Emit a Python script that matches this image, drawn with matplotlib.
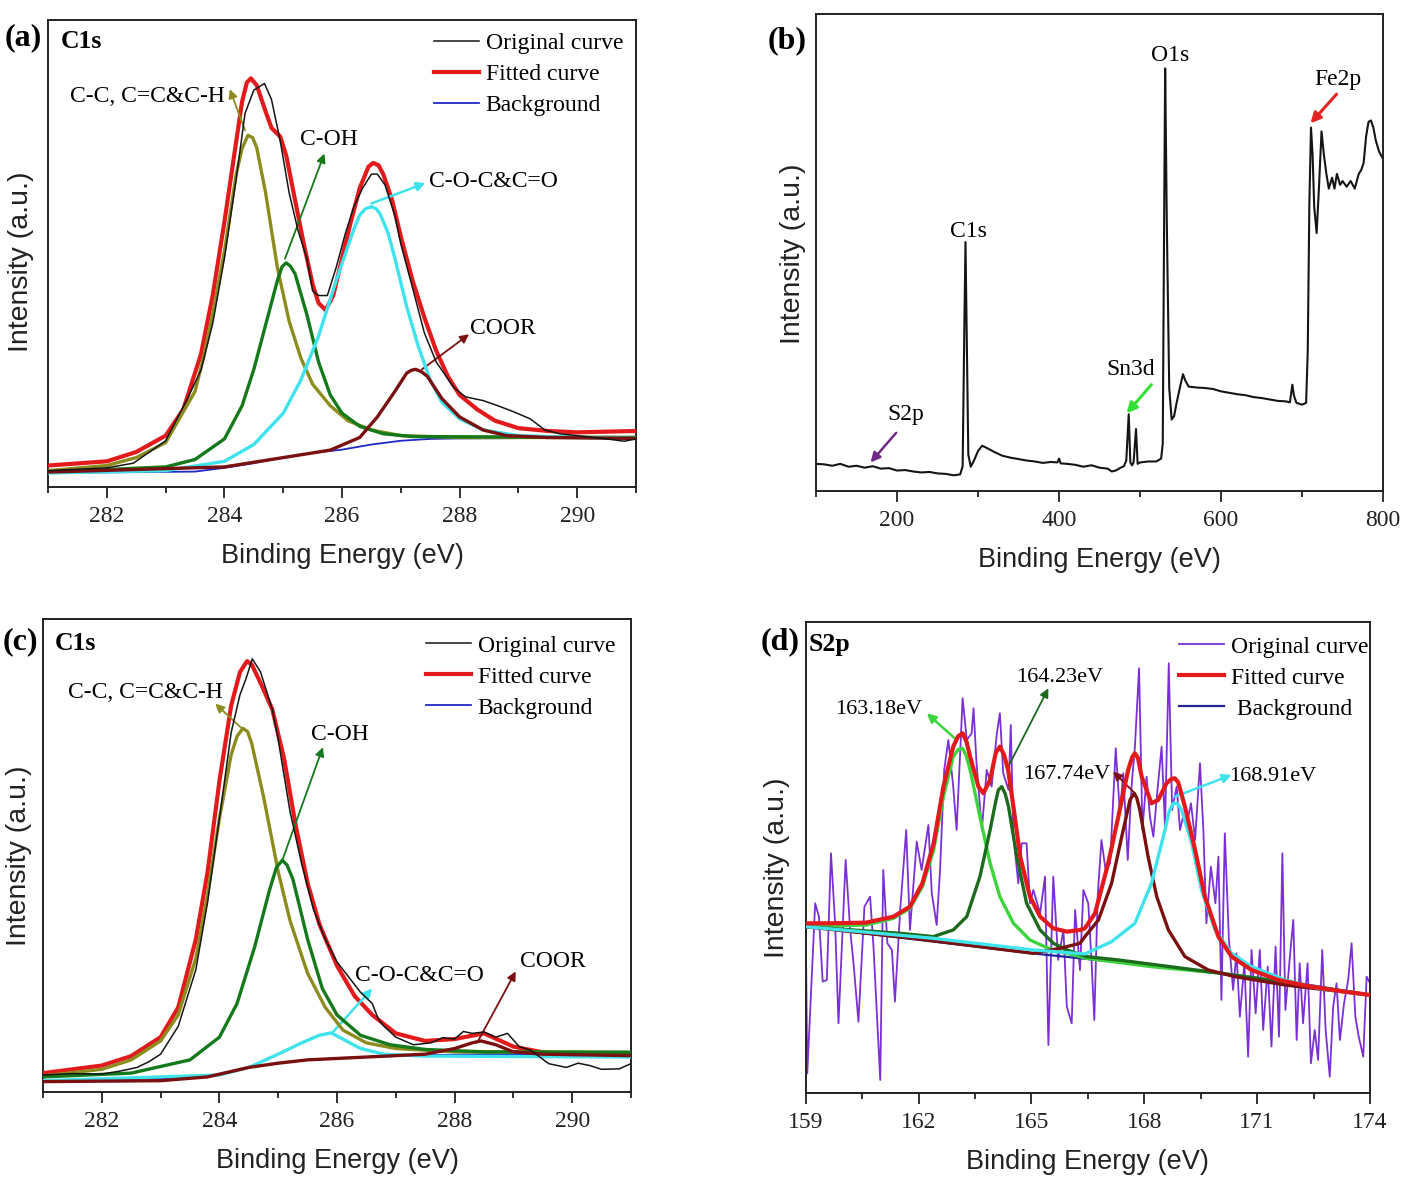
import matplotlib
matplotlib.use("Agg")
import matplotlib.pyplot as plt
from matplotlib.ticker import MultipleLocator

plt.rcParams['font.family'] = ['Liberation Serif', 'DejaVu Serif']
SANS = 'Liberation Sans'

# ---------------------------------
# Data
# ---------------------------------

# (a) C1s
a_orig_x = [281, 282, 282.45, 283.0, 283.37, 283.6, 283.8, 284.0, 284.2, 284.35, 284.5, 284.68, 284.8, 284.95,
            285.1, 285.25, 285.4, 285.5, 285.6, 285.75, 285.9, 286.05, 286.2, 286.35, 286.5, 286.6, 286.73,
            286.9, 287.0, 287.2, 287.4, 287.6, 287.9, 288.1, 288.4, 288.65, 288.9, 289.2, 289.45, 289.7,
            290.0, 290.5, 290.8, 291.0]
a_orig_y = [3.5, 4.1, 5.1, 9.9, 18.9, 25.0, 35.0, 49.0, 66.0, 80.0, 85.0, 86.4, 83.0, 74.0,
            63.0, 55.0, 49.0, 42.0, 41.0, 41.0, 47.0, 54.0, 60.0, 64.0, 67.0, 67.0, 64.7,
            58.0, 52.0, 42.6, 33.0, 26.8, 21.3, 19.3, 18.5, 17.4, 16.2, 14.6, 12.2, 11.4,
            11.0, 10.3, 9.8, 10.3]
a_fit_x = [281, 282, 282.5, 283, 283.3, 283.6, 283.8, 284.0, 284.2, 284.3, 284.38, 284.45, 284.55, 284.7, 284.8,
           284.95, 285.05, 285.2, 285.35, 285.5, 285.6, 285.72, 285.85, 286.0, 286.15, 286.3, 286.45, 286.53,
           286.62, 286.7, 286.85, 287.0, 287.2, 287.4, 287.6, 287.8, 288.0, 288.3, 288.6, 289.0, 289.5, 290.0, 291.0]
a_fit_y = [4.6, 5.5, 7.5, 11.0, 16.6, 28.4, 41.0, 56.8, 74.0, 82.5, 86.6, 87.5, 86.0, 80.4, 76.9,
           75.0, 71.0, 61.5, 52.0, 43.4, 39.4, 37.9, 41.0, 49.0, 56.8, 64.0, 68.6, 69.4,
           68.9, 67.0, 61.5, 53.6, 44.2, 36.3, 29.2, 23.7, 19.7, 16.6, 14.2, 12.6, 12.0, 11.7, 12.0]
a_bg_x = [281, 283.5, 284, 284.5, 285, 285.5, 286, 286.5, 287, 287.5, 288, 291]
a_bg_y = [3.0, 3.3, 4.1, 5.1, 6.3, 7.3, 8.0, 9.1, 9.9, 10.3, 10.4, 10.6]
a_cc_x = [281, 282, 282.5, 283, 283.5, 283.65, 283.8, 284.0, 284.2, 284.3, 284.4, 284.48, 284.55, 284.7, 284.9,
          285.1, 285.3, 285.5, 285.8, 286.1, 286.5, 287.0, 288.0, 291.0]
a_cc_y = [3.5, 4.6, 6.3, 9.5, 20.5, 28.0, 37.0, 50.5, 67.0, 72.5, 75.3, 74.8, 72.6, 63.0, 47.0,
          35.5, 27.6, 22.0, 17.4, 14.2, 12.2, 11.0, 10.6, 10.6]
a_coh_x = [281, 283, 283.5, 284.0, 284.3, 284.5, 284.7, 284.9, 284.98, 285.05, 285.12, 285.2, 285.4, 285.6,
           285.8, 286.0, 286.3, 286.7, 287.2, 291.0]
a_coh_y = [3.2, 4.3, 5.9, 10.3, 17.4, 25.2, 34.7, 44.2, 47.2, 48.0, 47.3, 45.7, 37.0, 26.8,
           19.7, 15.8, 13.0, 11.4, 10.8, 10.6]
a_coc_x = [281, 283, 284, 284.5, 285, 285.3, 285.6, 285.9, 286.2, 286.3, 286.4, 286.5, 286.58, 286.65,
           286.78, 286.9, 287.1, 287.3, 287.5, 287.7, 288, 288.4, 289, 290, 291]
a_coc_y = [3.0, 3.5, 5.5, 9.1, 15.8, 22.9, 32.3, 44.2, 55.2, 58.2, 59.6, 60.0, 59.6, 58.4,
           54.5, 48.9, 38.6, 30.0, 22.9, 18.1, 14.6, 12.2, 11.0, 10.6, 10.4]
a_coor_x = [281, 284, 285, 285.8, 286.3, 286.6, 286.9, 287.1, 287.18, 287.25, 287.35, 287.45, 287.7, 288,
            288.4, 288.8, 289.5, 291]
a_coor_y = [3.2, 4.3, 6.3, 7.9, 10.6, 15.0, 20.5, 24.4, 25.0, 25.2, 24.7, 23.7, 18.9, 15.0,
            12.2, 11.0, 10.6, 10.4]

# (b) survey spectrum
b_x = [100, 110, 120, 130, 140, 150, 160, 170, 180, 190, 200, 210, 220, 230, 240, 250, 260, 270, 278,
       281, 283, 284.5, 286, 288, 291, 295, 300, 305, 310, 320, 330, 340, 350, 360, 370, 380, 390, 398,
       400, 402, 410, 420, 430, 440, 450, 460, 465, 470, 475, 480, 483, 486, 488, 490, 492, 495, 497,
       500, 510, 520, 526, 528, 530, 531, 533, 536, 539, 542, 545, 550, 553, 556, 560, 570, 580, 590,
       600, 610, 620, 630, 640, 650, 660, 670, 680, 685, 688, 690, 693, 700, 705, 707, 709, 711, 713,
       715, 718, 721, 724, 727, 730, 733, 737, 740, 743, 747, 750, 755, 760, 765, 770, 773, 776, 779,
       782, 785, 788, 791, 795, 800]
b_y = [5.7, 5.6, 5.3, 5.7, 5.1, 5.3, 4.9, 5.2, 4.7, 4.8, 4.3, 4.4, 4.1, 3.9, 4.0, 3.7, 3.6, 3.3, 3.5,
       5.2, 33.2, 52.2, 33.0, 7.6, 5.1, 6.4, 8.4, 9.5, 9.1, 8.2, 7.4, 7.0, 6.7, 6.4, 6.2, 5.9, 6.1, 6.0,
       6.8, 5.8, 5.7, 5.5, 5.1, 5.4, 4.9, 4.7, 4.1, 4.3, 4.8, 5.2, 6.4, 16.1, 6.0, 5.4, 6.0, 13.0, 5.7,
       6.0, 6.2, 6.2, 6.8, 9.9, 64.2, 88.6, 56.4, 21.6, 15.0, 15.7, 18.4, 22.3, 24.5, 23.1, 21.9, 21.7, 21.6, 21.4,
       20.9, 20.6, 20.3, 20.1, 19.7, 19.5, 19.2, 18.9, 18.8, 18.6, 22.3, 20.0, 18.5, 18.1, 18.5, 29.3, 60.3, 76.2, 70.4,
       59.5, 54.1, 64.2, 75.4, 70.4, 66.5, 63.4, 65.7, 63.4, 66.5, 64.2, 65.0, 63.8, 65.0, 63.4, 66.5, 67.3, 68.8, 74.3,
       77.4, 77.7, 76.2, 73.5, 71.2, 69.6]

# (c) C1s
c_orig_x = [281, 281.5, 282, 282.3, 282.6, 282.8, 283.0, 283.3, 283.6, 283.8, 284.0, 284.2, 284.35, 284.45,
            284.56, 284.7, 284.9, 285.0, 285.2, 285.4, 285.6, 285.8, 286.0, 286.2, 286.4, 286.6, 286.7,
            286.8, 287.0, 287.3, 287.6, 287.8, 288.0, 288.15, 288.3, 288.5, 288.7, 288.9, 289.1, 289.3,
            289.6, 289.9, 290.1, 290.3, 290.5, 290.8, 291]
c_orig_y = [3.6, 3.9, 3.8, 4.4, 5.2, 6.4, 8.0, 13.9, 25.9, 40.2, 57.8, 76.0, 84.0, 87.3,
            91.6, 88.8, 80.9, 74.5, 59.4, 48.2, 38.6, 32.3, 27.5, 24.3, 21.1, 18.7, 15.5,
            13.9, 11.6, 10.0, 10.4, 11.5, 11.2, 12.8, 12.4, 12.7, 11.6, 12.4, 9.6, 8.8,
            6.0, 5.2, 6.1, 5.6, 4.8, 4.9, 6.0]
c_fit_x = [281, 282, 282.5, 283, 283.3, 283.6, 283.8, 284.0, 284.2, 284.35, 284.47, 284.55, 284.7, 284.9,
           285.1, 285.3, 285.5, 285.7, 286.0, 286.3, 286.6, 287.0, 287.5, 288.0, 288.5, 289.0, 289.5, 290, 291]
c_fit_y = [4.0, 5.6, 7.6, 11.6, 17.9, 32.3, 46.6, 65.7, 81.7, 88.8, 91.1, 90.4, 86.5, 80.9,
           70.5, 56.2, 44.2, 35.5, 26.7, 20.3, 16.3, 12.4, 10.8, 11.2, 12.4, 9.6, 8.4, 8.0, 7.6]
c_bg_x = [281, 283.8, 284.5, 285, 285.5, 286.5, 287.5, 288.5, 291]
c_bg_y = [2.2, 3.2, 5.2, 6.1, 6.8, 7.4, 7.8, 8.0, 8.0]
c_cc_x = [281, 282, 282.5, 283, 283.3, 283.6, 283.8, 284.0, 284.2, 284.3, 284.4, 284.48, 284.55, 284.75, 285.0,
          285.2, 285.5, 285.8, 286.1, 286.5, 287, 288, 291]
c_cc_y = [3.4, 4.8, 6.8, 10.8, 16.3, 28.3, 41.8, 57.8, 71.3, 75.2, 76.9, 76.2, 73.7, 62.5, 46.6,
          36.3, 25.1, 17.9, 13.1, 10.4, 9.2, 8.5, 8.4]
c_coh_x = [281, 282.5, 283.5, 284.0, 284.3, 284.6, 284.85, 284.97, 285.07, 285.15, 285.25, 285.5, 285.75,
           286.0, 286.4, 286.9, 287.5, 288.5, 291]
c_coh_y = [3.2, 4.0, 6.8, 11.6, 18.7, 30.7, 42.6, 47.5, 49.0, 48.0, 45.0, 32.3, 21.9,
           16.3, 12.0, 10.0, 9.0, 8.5, 8.4]
c_coc_x = [281, 284, 284.5, 285, 285.4, 285.7, 285.9, 286.1, 286.4, 286.8, 287.5, 291]
c_coc_y = [2.4, 3.6, 5.2, 8.0, 10.4, 12.0, 12.5, 11.2, 9.2, 8.0, 7.6, 7.4]
c_coor_x = [281, 283, 283.8, 284.5, 285, 285.5, 286.5, 287.5, 288, 288.3, 288.45, 288.7, 289, 289.5, 291]
c_coor_y = [2.2, 2.4, 3.2, 5.2, 6.1, 6.8, 7.4, 8.0, 9.2, 10.4, 10.8, 10.0, 8.5, 8.0, 7.7]

# (d) S2p
d_orig_x = [159.0, 159.04, 159.25, 159.35, 159.45, 159.56, 159.67, 159.78, 159.87, 160.06,
            160.18, 160.27, 160.40, 160.56, 160.71, 160.80, 160.98, 161.06, 161.17, 161.29,
            161.37, 161.51, 161.67, 161.77, 161.95, 162.08, 162.26, 162.35, 162.48, 162.57,
            162.68, 162.79, 162.92, 163.01, 163.17, 163.28, 163.41, 163.46, 163.54, 163.68,
            163.81, 163.94, 164.08, 164.16, 164.25, 164.39, 164.45, 164.52, 164.65, 164.74,
            164.87, 164.96, 165.05, 165.23, 165.36, 165.45, 165.58, 165.71, 165.85, 165.94,
            166.07, 166.16, 166.29, 166.38,
            166.51, 166.6, 166.67, 166.76, 166.86, 166.97, 167.09, 167.24, 167.35, 167.44,
            167.56, 167.66, 167.75, 167.86, 167.95, 168.06, 168.15, 168.24, 168.35, 168.46,
            168.55, 168.65, 168.74, 168.86, 168.95, 169.03, 169.12, 169.24, 169.35, 169.48,
            169.57, 169.65, 169.77, 169.89, 169.97, 170.05, 170.14, 170.25, 170.36, 170.45,
            170.54, 170.66, 170.76, 170.85, 170.96, 171.07, 171.16, 171.28, 171.38, 171.49,
            171.58, 171.67, 171.75, 171.87, 171.96, 172.05, 172.13, 172.22, 172.34, 172.43,
            172.53, 172.62, 172.73, 172.82, 172.93, 173.02, 173.11, 173.2, 173.31, 173.42,
            173.51, 173.61, 173.7, 173.82, 173.91, 174.0]
d_orig_y = [48.9, 5.9, 56.9, 52.9, 33.4, 33.9, 71.9, 50.9, 20.9, 69.9,
            48.9, 38.9, 21.4, 55.9, 58.9, 43.9, 3.9, 66.9, 44.9, 42.9,
            27.4, 54.9, 78.9, 48.9, 75.4, 66.9, 80.4, 59.9, 50.4, 66.9,
            96.9, 105.9, 91.9, 78.9, 118.4, 105.9, 107.9, 115.4, 98.9, 78.9,
            96.9, 91.9, 107.9, 113.9, 95.9, 90.9, 110.4, 76.9, 62.9, 74.9,
            74.9, 56.9, 60.9, 53.9, 64.9, 14.4, 64.9, 39.9, 48.9, 25.9,
            20.9, 54.9, 36.9, 60.9,
            56.9, 38.9, 21.9, 58.9, 75.9, 66.9, 68.9, 103.4, 83.9, 95.9,
            69.9, 91.9, 103.9, 127.4, 78.9, 94.9, 82.9, 76.9, 90.9, 103.9,
            79.9, 128.9, 84.9, 91.9, 78.9, 82.9, 79.9, 86.9, 75.9, 98.9,
            78.9, 50.9, 67.9, 56.9, 70.9, 27.9, 77.9, 45.9, 30.9, 41.9,
            22.9, 38.9, 10.9, 42.9, 23.9, 42.9, 18.9, 37.9, 13.9, 43.9,
            16.9, 71.9, 24.9, 40.9, 51.9, 15.9, 38.9, 20.9, 38.9, 8.9,
            18.9, 9.9, 42.9, 18.9, 4.9, 25.9, 32.9, 15.9, 26.9, 33.9,
            44.9, 22.9, 16.9, 10.9, 34.9, 32.9]
d_fit_x = [159, 159.7, 160.6, 161.33, 161.77, 162.1, 162.4, 162.66, 162.92, 163.05, 163.17, 163.27, 163.37,
           163.59, 163.72, 163.9, 164.05, 164.16, 164.27, 164.38, 164.52, 164.7, 164.96, 165.23, 165.58,
           165.94, 166.29, 166.42, 166.69, 167.04, 167.31, 167.57, 167.68, 167.75, 167.83, 167.93, 168.19,
           168.37, 168.59, 168.72, 168.81, 168.9, 169.08, 169.35, 169.61, 169.97, 170.32, 170.85, 171.56,
           172.44, 173.33, 174]
d_fit_y = [50.9, 50.9, 51.1, 52.9, 55.9, 62.9, 74.9, 91.9, 103.9, 107.0, 107.9, 105.5, 100.9,
           91.9, 89.9, 93.9, 102.0, 103.9, 101.5, 96.9, 85.9, 70.9, 58.9, 52.9, 49.4,
           48.4, 48.9, 49.4, 53.9, 68.9, 82.9, 96.9, 100.8, 101.9, 100.5, 94.9, 86.9,
           87.9, 92.9, 94.2, 94.4, 93.2, 85.9, 72.9, 58.9, 46.9, 40.9, 36.9, 33.9,
           31.9, 30.4, 29.4]
d_bg_x = [159, 161, 163, 165, 167, 169, 171, 172.5, 174]
d_bg_y = [49.9, 47.3, 44.6, 41.9, 39.6, 37.2, 34.6, 32.2, 29.4]
d_p1_x = [159, 160.62, 161.33, 161.77, 162.1, 162.4, 162.66, 162.92, 163.05, 163.17, 163.27, 163.37, 163.63,
          163.9, 164.16, 164.52, 164.96, 165.45, 165.94, 166.47, 168.19, 170.05, 174]
d_p1_y = [49.9, 50.4, 52.4, 55.4, 61.9, 72.9, 88.9, 100.9, 103.0, 103.4, 101.0, 96.9, 82.9,
          68.9, 58.9, 50.9, 45.9, 43.4, 41.9, 40.4, 37.9, 35.9, 29.4]
d_p2_x = [159, 161.51, 162.39, 162.92, 163.28, 163.63, 163.9, 164.05, 164.12, 164.21, 164.3, 164.39, 164.61,
          164.87, 165.23, 165.58, 165.94, 166.47, 167.31, 170.05, 174]
d_p2_y = [49.9, 47.9, 46.9, 48.9, 52.9, 64.9, 78.9, 87.5, 90.9, 91.9, 89.8, 85.9, 70.9,
          56.9, 48.9, 44.9, 42.9, 40.9, 39.9, 35.9, 29.4]
d_p3_x = [159, 162.0, 165.05, 165.76, 166.29, 166.42, 166.78, 167.13, 167.4, 167.62, 167.73, 167.8, 167.88,
          168.1, 168.33, 168.64, 169.08, 169.7, 170.41, 171.74, 174]
d_p3_y = [49.9, 46.2, 41.9, 43.4, 44.9, 46.9, 51.9, 62.9, 76.9, 87.9, 89.9, 88.5, 84.9,
          70.9, 58.9, 48.9, 40.9, 36.9, 34.9, 32.4, 29.4]
d_p4_x = [159, 162.39, 165.05, 166.42, 167.13, 167.75, 168.19, 168.55, 168.66, 168.77, 168.88, 168.99, 169.26,
          169.52, 169.88, 170.32, 170.85, 171.74, 172.62, 174]
d_p4_y = [49.9, 46.4, 42.9, 41.7, 45.4, 50.9, 62.9, 78.9, 84.5, 86.9, 86.8, 84.9, 74.9,
          60.9, 48.9, 41.9, 37.9, 33.9, 31.4, 29.4]

# colours
C_ORIG = '#151515'
C_FIT = '#e31a1c'
C_BG = '#1f28c8'
C_OLIVE = '#8c8c1e'
C_GREEN = '#13791a'
C_CYAN = '#3fe3eb'
C_MAROON = '#7a1010'
C_PURPLE = '#7b30d6'
C_LIME = '#3cd43c'
C_DKGREEN = '#1c6a1e'


def style_axes(ax, xlim, ylim, major, minor, ylab_x, ylab_y):
    ax.set_xlim(*xlim)
    ax.set_ylim(*ylim)
    ax.xaxis.set_major_locator(MultipleLocator(major))
    ax.xaxis.set_minor_locator(MultipleLocator(minor))
    ax.tick_params(axis='x', which='major', direction='out', length=8, width=1.3,
                   labelsize=17, pad=6, colors='#222222')
    ax.tick_params(axis='x', which='minor', direction='out', length=4, width=1.3, colors='#222222')
    ax.tick_params(axis='y', which='both', left=False, labelleft=False)
    for s in ax.spines.values():
        s.set_linewidth(1.4)
        s.set_color('#222222')
    ax.set_xlabel('Binding Energy (eV)', fontfamily=SANS, fontsize=19.5, labelpad=11, color='#222222')
    ax.set_ylabel('Intensity (a.u.)', fontfamily=SANS, fontsize=20.5, color='#222222')
    ax.yaxis.set_label_coords(ylab_x, ylab_y)


def arrow(ax, tail, head, color, lw=1.3, ms=13):
    ax.annotate('', xy=head, xytext=tail,
                arrowprops=dict(arrowstyle='-|>', color=color, lw=lw, mutation_scale=ms,
                                shrinkA=0, shrinkB=0))


def legend(ax, anchor):
    ax.legend(loc='upper right', bbox_to_anchor=anchor, frameon=False, fontsize=17,
              handlelength=1.9, handletextpad=0.3, labelspacing=0.4,
              borderaxespad=0.0, borderpad=0.0)


fig = plt.figure(figsize=(14.05, 11.91), dpi=100)
ax_a = fig.add_axes([0.0342, 0.5911, 0.4185, 0.3921])
ax_b = fig.add_axes([0.5808, 0.5877, 0.4036, 0.4005])
ax_c = fig.add_axes([0.0306, 0.0831, 0.4185, 0.3971])
ax_d = fig.add_axes([0.5735, 0.0823, 0.4016, 0.3955])

# ---- (a) ----
ax = ax_a
ax.plot(a_orig_x, a_orig_y, color=C_ORIG, lw=1.1, label='Original curve', zorder=6)
ax.plot(a_fit_x, a_fit_y, color=C_FIT, lw=3.0, label='Fitted curve', zorder=3)
ax.plot(a_bg_x, a_bg_y, color=C_BG, lw=1.3, label='Background', zorder=2)
ax.plot(a_cc_x, a_cc_y, color=C_OLIVE, lw=2.4, zorder=4)
ax.plot(a_coh_x, a_coh_y, color=C_GREEN, lw=2.4, zorder=4)
ax.plot(a_coc_x, a_coc_y, color=C_CYAN, lw=2.4, zorder=4)
ax.plot(a_coor_x, a_coor_y, color=C_MAROON, lw=2.4, zorder=4)
style_axes(ax, (281, 291), (0, 100), 2, 1, -0.024, 0.482)
legend(ax, (0.978, 0.973))
ax.text(282.69, 83.6, 'C-C, C=C&C-H', ha='center', va='center', fontsize=17)
ax.text(285.77, 74.5, 'C-OH', ha='center', va='center', fontsize=17)
ax.text(288.57, 65.5, 'C-O-C&C=O', ha='center', va='center', fontsize=17)
ax.text(288.73, 33.9, 'COOR', ha='center', va='center', fontsize=17)
arrow(ax, (284.35, 76.4), (284.09, 85.2), C_OLIVE)
arrow(ax, (285.03, 48.9), (285.7, 71.4), C_GREEN)
arrow(ax, (286.5, 60.7), (287.42, 65.1), C_CYAN, lw=1.8)
arrow(ax, (287.36, 25.2), (288.16, 32.7), C_MAROON)
ax.text(-0.043, 0.962, '(a)', transform=ax.transAxes, ha='center', va='center',
        fontsize=23, fontweight='bold')
ax.text(0.056, 0.953, 'C1s', transform=ax.transAxes, ha='center', va='center',
        fontsize=18.5, fontweight='bold')

# ---- (b) ----
ax = ax_b
ax.plot(b_x, b_y, color=C_ORIG, lw=1.5)
style_axes(ax, (100, 800), (0, 100), 200, 100, -0.018, 0.497)
ax.text(537, 91.3, 'O1s', ha='center', va='center', fontsize=17)
ax.text(287.7, 54.5, 'C1s', ha='center', va='center', fontsize=17)
ax.text(488.5, 25.4, 'Sn3d', ha='center', va='center', fontsize=17)
ax.text(210.5, 16.1, 'S2p', ha='center', va='center', fontsize=17)
ax.text(743.7, 86.3, 'Fe2p', ha='center', va='center', fontsize=17)
arrow(ax, (514, 22.3), (483.5, 16.3), '#34e034', lw=2.2, ms=15)
arrow(ax, (198.9, 12.2), (167.3, 6.0), '#6e2a86', lw=1.8, ms=14)
arrow(ax, (742.6, 83.2), (710.4, 77.1), '#e42424', lw=2.2, ms=15)
ax.text(-0.051, 0.945, '(b)', transform=ax.transAxes, ha='center', va='center',
        fontsize=23, fontweight='bold')

# ---- (c) ----
ax = ax_c
ax.plot(c_orig_x, c_orig_y, color=C_ORIG, lw=1.1, label='Original curve', zorder=6)
ax.plot(c_fit_x, c_fit_y, color=C_FIT, lw=3.0, label='Fitted curve', zorder=3)
ax.plot(c_bg_x, c_bg_y, color=C_BG, lw=1.3, label='Background', zorder=2)
ax.plot(c_cc_x, c_cc_y, color=C_OLIVE, lw=2.4, zorder=4)
ax.plot(c_coh_x, c_coh_y, color=C_GREEN, lw=2.4, zorder=4)
ax.plot(c_coc_x, c_coc_y, color=C_CYAN, lw=2.4, zorder=4)
ax.plot(c_coor_x, c_coor_y, color=C_MAROON, lw=2.4, zorder=4)
style_axes(ax, (281, 291), (0, 100), 2, 1, -0.0185, 0.499)
legend(ax, (0.973, 0.966))
ax.text(282.75, 84.5, 'C-C, C=C&C-H', ha='center', va='center', fontsize=17)
ax.text(286.05, 75.7, 'C-OH', ha='center', va='center', fontsize=17)
ax.text(287.4, 24.7, 'C-O-C&C=O', ha='center', va='center', fontsize=17)
ax.text(289.67, 27.5, 'COOR', ha='center', va='center', fontsize=17)
arrow(ax, (284.38, 76.9), (283.93, 82.1), C_OLIVE)
arrow(ax, (285.07, 49.0), (285.76, 72.9), C_GREEN)
arrow(ax, (285.91, 12.4), (286.6, 21.9), C_CYAN, lw=1.8)
arrow(ax, (288.4, 10.8), (289.04, 25.5), C_MAROON)
ax.text(-0.039, 0.953, '(c)', transform=ax.transAxes, ha='center', va='center',
        fontsize=23, fontweight='bold')
ax.text(0.055, 0.949, 'C1s', transform=ax.transAxes, ha='center', va='center',
        fontsize=18.5, fontweight='bold')

# ---- (d) ----
ax = ax_d
ax.plot(d_orig_x, d_orig_y, color=C_PURPLE, lw=1.3, label='Original curve', zorder=1)
ax.plot(d_fit_x, d_fit_y, color=C_FIT, lw=3.0, label='Fitted curve', zorder=5)
ax.plot(d_bg_x, d_bg_y, color='#23269a', lw=1.6, label=' Background', zorder=2)
ax.plot(d_p1_x, d_p1_y, color=C_LIME, lw=2.4, zorder=3)
ax.plot(d_p2_x, d_p2_y, color=C_DKGREEN, lw=2.4, zorder=3)
ax.plot(d_p3_x, d_p3_y, color=C_MAROON, lw=2.4, zorder=3)
ax.plot(d_p4_x, d_p4_y, color=C_CYAN, lw=2.4, zorder=4)
style_axes(ax, (159, 174), (0, 141.3), 3, 1.5, -0.028, 0.478)
legend(ax, (0.998, 0.970))
ax.text(160.95, 114.9, '163.18eV', ha='center', va='center', fontsize=16)
ax.text(165.76, 124.5, '164.23eV', ha='center', va='center', fontsize=16)
ax.text(165.93, 95.6, '167.74eV', ha='center', va='center', fontsize=16)
ax.text(171.42, 94.9, '168.91eV', ha='center', va='center', fontsize=16)
arrow(ax, (163.01, 105.9), (162.22, 113.9), C_LIME, lw=1.8)
arrow(ax, (164.43, 98.9), (165.45, 121.4), C_DKGREEN)
arrow(ax, (167.75, 89.9), (167.17, 96.4), C_MAROON)
arrow(ax, (168.81, 88.9), (170.32, 95.4), C_CYAN, lw=1.8)
ax.text(-0.046, 0.958, '(d)', transform=ax.transAxes, ha='center', va='center',
        fontsize=23, fontweight='bold')
ax.text(0.042, 0.953, 'S2p', transform=ax.transAxes, ha='center', va='center',
        fontsize=18.5, fontweight='bold')

fig.savefig('out.png', dpi=100)
